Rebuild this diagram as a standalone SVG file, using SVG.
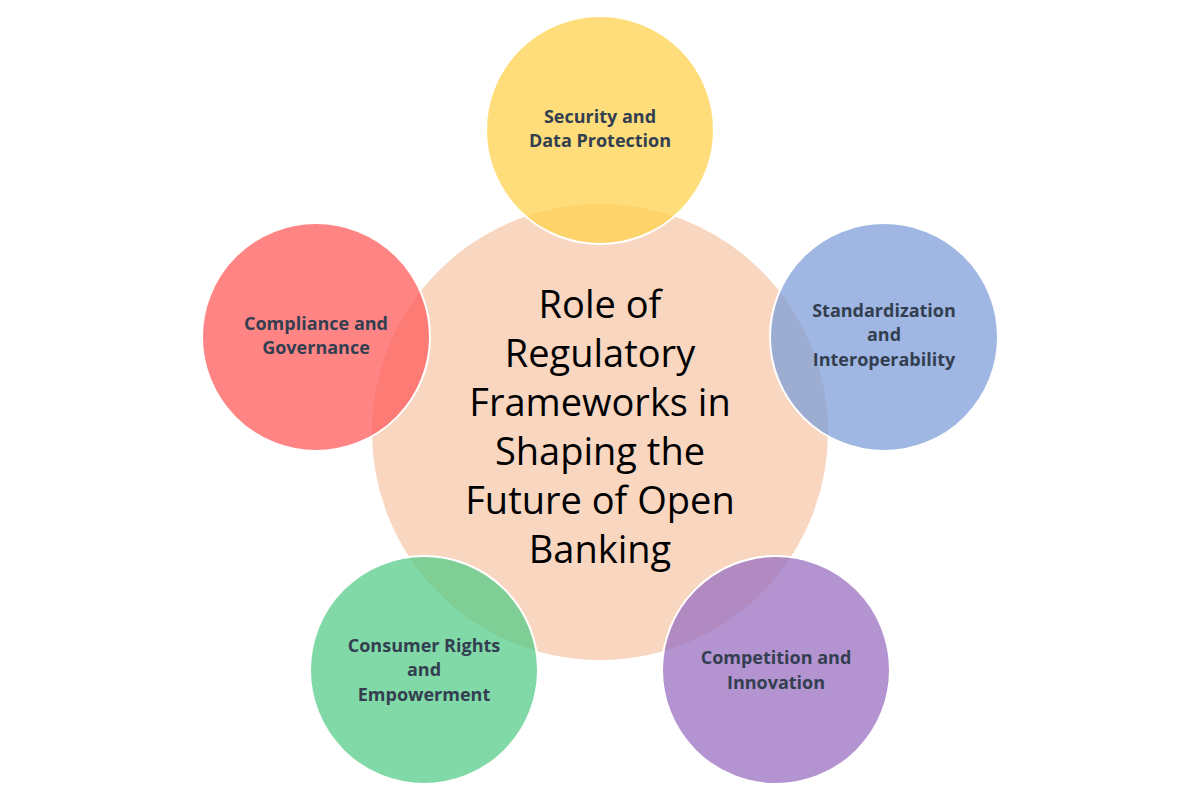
<svg xmlns="http://www.w3.org/2000/svg" width="1200" height="800" viewBox="0 0 1200 800">
<style>
.c{stroke:#fff;stroke-width:2}
.s{font-family:"Open Sans","Liberation Sans",sans-serif;font-weight:bold;font-size:18px;fill:#333f50;text-anchor:middle}
.m{font-family:"Open Sans","Liberation Sans",sans-serif;font-size:38px;fill:#000;text-anchor:middle}
</style>
<rect width="1200" height="800" fill="#fff"/>
<g id="center"><circle class="c" cx="600" cy="432" r="229" fill="#f8d6c0"/>
<text class="m"><tspan x="600" y="318">Role of</tspan><tspan x="600" y="367">Regulatory</tspan><tspan x="600" y="416">Frameworks in</tspan><tspan x="600" y="465">Shaping the</tspan><tspan x="600" y="514">Future of Open</tspan><tspan x="600" y="563">Banking</tspan></text></g>
<g id="security"><circle class="c" cx="600" cy="130" r="114" fill="#ffd24d" fill-opacity="0.75"/>
<text class="s"><tspan x="600" y="123">Security and</tspan><tspan x="600" y="147">Data Protection</tspan></text></g>
<g id="standard"><circle class="c" cx="884" cy="337" r="114" fill="#7f9fd8" fill-opacity="0.75"/>
<text class="s"><tspan x="884" y="317">Standardization</tspan><tspan x="884" y="341">and</tspan><tspan x="884" y="366">Interoperability</tspan></text></g>
<g id="compliance"><circle class="c" cx="316" cy="337" r="114" fill="#ff5c5c" fill-opacity="0.75"/>
<text class="s"><tspan x="316" y="330">Compliance and</tspan><tspan x="316" y="354">Governance</tspan></text></g>
<g id="consumer"><circle class="c" cx="424" cy="670" r="114" fill="#4fca85" fill-opacity="0.72"/>
<text class="s"><tspan x="424" y="652">Consumer Rights</tspan><tspan x="424" y="676">and</tspan><tspan x="424" y="701">Empowerment</tspan></text></g>
<g id="competition"><circle class="c" cx="776" cy="670" r="114" fill="#9a70c2" fill-opacity="0.75"/>
<text class="s"><tspan x="776" y="664">Competition and</tspan><tspan x="776" y="689">Innovation</tspan></text></g>
<g id="connectors"/>
</svg>
